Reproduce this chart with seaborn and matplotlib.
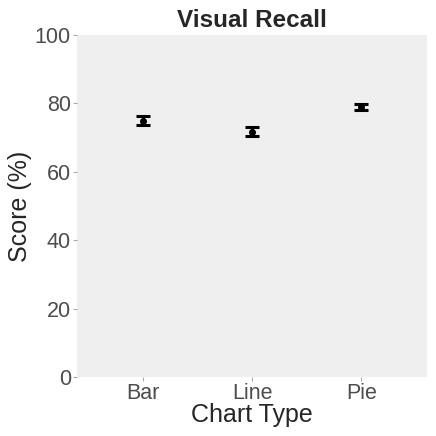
import matplotlib
matplotlib.use('Agg')
import matplotlib.pyplot as plt
import seaborn as sns
import pandas as pd

# Values
chart_types = ['Bar', 'Line', 'Pie']
mean_scores = [74.9, 71.7, 79.0]
score_errors = [1.3, 1.3, 0.9]

df = pd.DataFrame({'Chart Type': chart_types, 'Score': mean_scores})

sns.set_theme(style='white')
plt.rcParams['font.family'] = ['Liberation Sans', 'DejaVu Sans']

fig = plt.figure(figsize=(4.36, 4.36), dpi=100)
ax = fig.add_axes([0.177, 0.135, 0.802, 0.785])
ax.set_facecolor('#EFEFEF')

# Means as points
sns.pointplot(data=df, x='Chart Type', y='Score', color='black',
              linestyles='none', markers='o', markersize=3,
              errorbar=None, ax=ax)

# Error bars
ax.errorbar(range(len(chart_types)), mean_scores, yerr=score_errors,
            fmt='none', ecolor='black', elinewidth=2.2, capsize=5,
            capthick=2.2, zorder=3)

ax.set_xlim(-0.6, 2.6)
ax.set_ylim(0, 100)
ax.set_yticks([0, 20, 40, 60, 80, 100])

for s in ax.spines.values():
    s.set_visible(False)

ax.tick_params(axis='both', left=True, bottom=True, colors='#AAAAAA',
               length=3, width=0.8, labelcolor='#4D4D4D', labelsize=15.5,
               pad=1.5)

ax.set_title('Visual Recall', fontsize=17.5, fontweight='bold', pad=6)
ax.set_xlabel('Chart Type', fontsize=18, labelpad=-1)
ax.set_ylabel('Score (%)', fontsize=18, labelpad=2)

fig.savefig('out.png', dpi=100)
